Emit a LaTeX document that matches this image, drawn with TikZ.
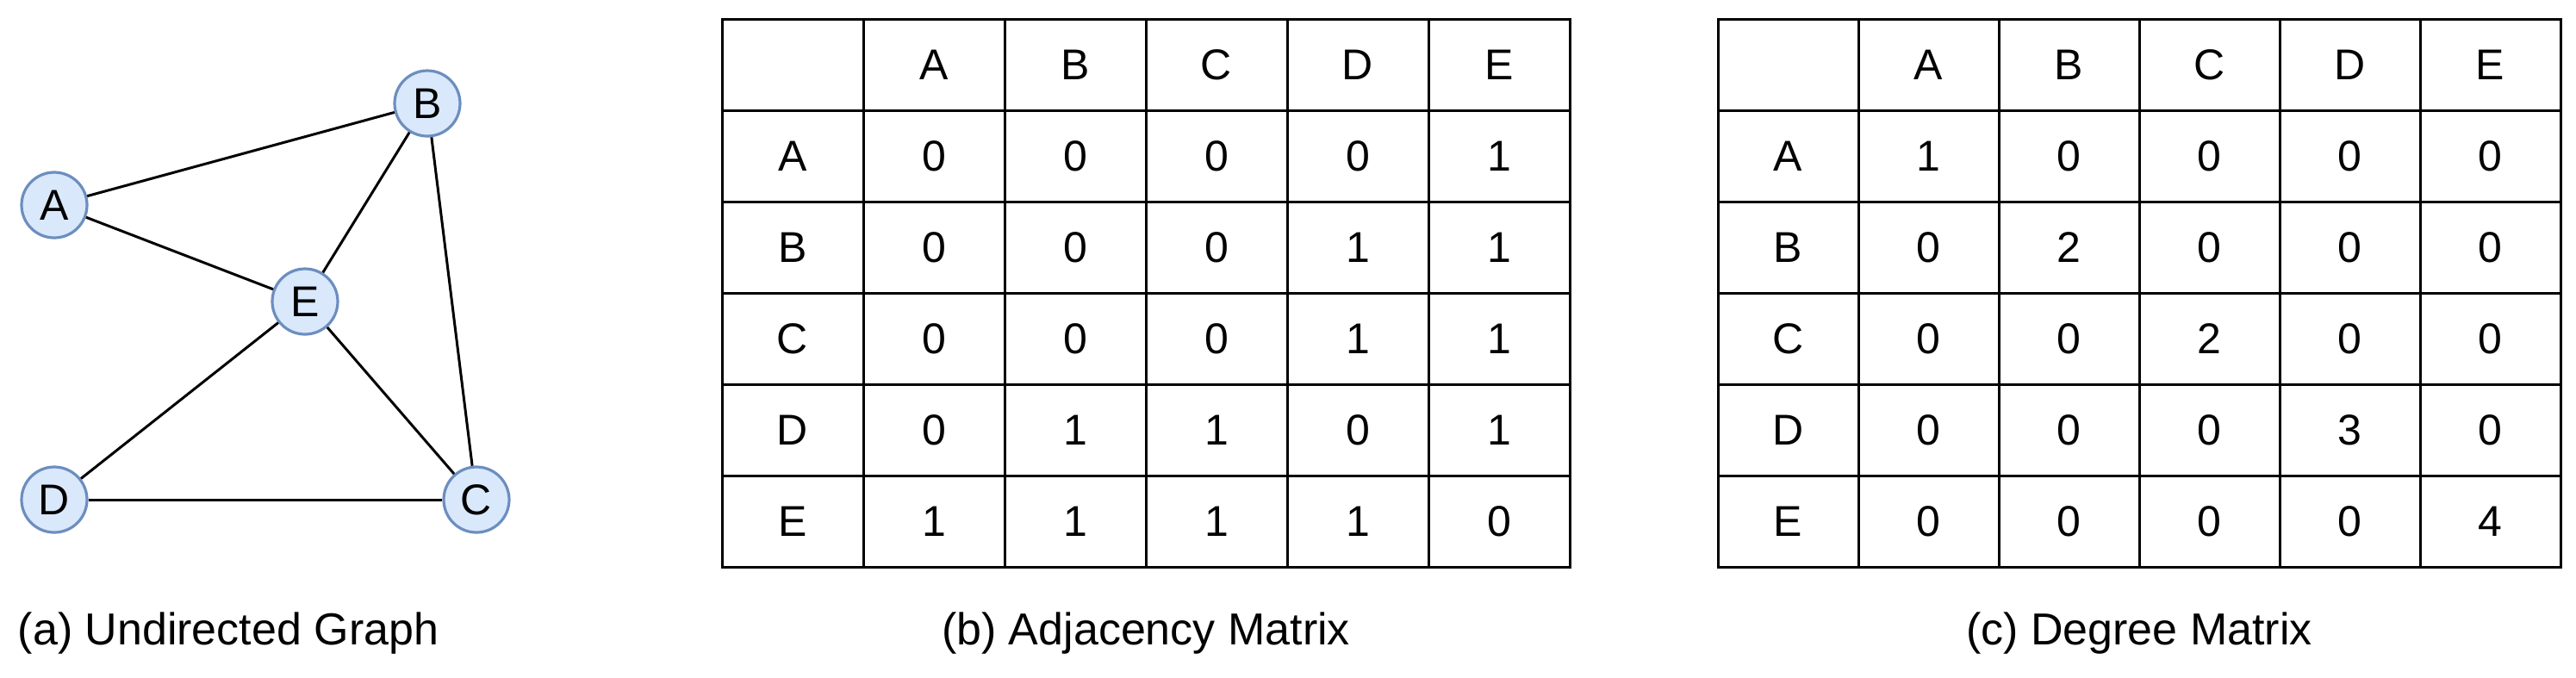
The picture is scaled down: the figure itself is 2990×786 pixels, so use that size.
\documentclass[tikz,border=0pt]{standalone}
\usepackage{fontspec}
\setmainfont{Liberation Sans}
\usepackage{tikz}
\usetikzlibrary{positioning}
\definecolor{vfill}{HTML}{DAE8FC}
\definecolor{vline}{HTML}{6C8EBF}
\tikzstyle{vertex} = [circle, draw=vline, fill=vfill, line width=0.8pt, minimum size=19pt, inner sep=0pt, font=\fontsize{12.5}{14}\selectfont]
\tikzstyle{edge} = [line width=0.75pt]
\tikzstyle{cell} = [draw, line width=0.75pt, minimum height=26.5pt, inner sep=0pt, font=\fontsize{12.5}{14}\selectfont]
\tikzstyle{caption} = [inner sep=0pt, font=\fontsize{13}{15}\selectfont]

\begin{document}
\begin{tikzpicture}[x=0.25pt,y=-0.25pt]
		\useasboundingbox (0,0) rectangle (2990,786);
		% (a) graph
		\node[vertex] (A) at (63,238) {A};
		\node[vertex] (B) at (496,120) {B};
		\node[vertex] (E) at (354,350) {E};
		\node[vertex] (D) at (63,580) {D};
		\node[vertex] (C) at (553,580) {C};
		\draw[edge] (A)--(B);
		\draw[edge] (A)--(E);
		\draw[edge] (B)--(E);
		\draw[edge] (B)--(C);
		\draw[edge] (E)--(D);
		\draw[edge] (E)--(C);
		\draw[edge] (D)--(C);
		\node[caption, anchor=west] (capa) at (20,735) {(a) Undirected Graph};
		% (b) adjacency matrix
		\node[cell, minimum width=41pt] (adj-h-0) at (920,75) {};
		\foreach \c [count=\j] in {A,B,C,D,E}
			\node[cell, minimum width=41pt] (adj-h-\j) at (920+164*\j,75) {\c};
		\foreach \r/\vals [count=\i] in {A/{0,0,0,0,1}, B/{0,0,0,1,1}, C/{0,0,0,1,1}, D/{0,1,1,0,1}, E/{1,1,1,1,0}} {
			\node[cell, minimum width=41pt] (adj-\r-0) at (920,75+106*\i) {\r};
			\foreach \v [count=\j] in \vals
				\node[cell, minimum width=41pt] (adj-\r-\j) at (920+164*\j,75+106*\i) {\v};
		}
		\node[caption] (capb) at (1330,735) {(b) Adjacency Matrix};
		% (c) degree matrix
		\node[cell, minimum width=40.75pt] (deg-h-0) at (2075.5,75) {};
		\foreach \c [count=\j] in {A,B,C,D,E}
			\node[cell, minimum width=40.75pt] (deg-h-\j) at (2075.5+163*\j,75) {\c};
		\foreach \r/\vals [count=\i] in {A/{1,0,0,0,0}, B/{0,2,0,0,0}, C/{0,0,2,0,0}, D/{0,0,0,3,0}, E/{0,0,0,0,4}} {
			\node[cell, minimum width=40.75pt] (deg-\r-0) at (2075.5,75+106*\i) {\r};
			\foreach \v [count=\j] in \vals
				\node[cell, minimum width=40.75pt] (deg-\r-\j) at (2075.5+163*\j,75+106*\i) {\v};
		}
		\node[caption] (capc) at (2483,735) {(c) Degree Matrix};
	\end{tikzpicture}
\end{document}
